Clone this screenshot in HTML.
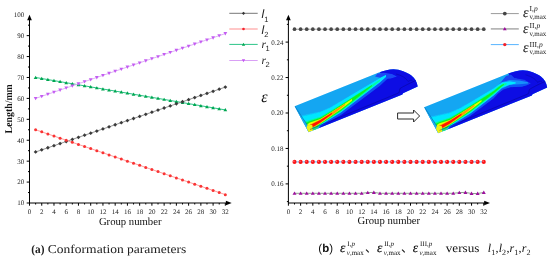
<!DOCTYPE html>
<html><head><meta charset="utf-8"><title>Figure</title>
<style>html,body{margin:0;padding:0;background:#fff}svg{display:block}</style>
</head><body>
<svg width="550" height="261" viewBox="0 0 550 261" text-rendering="geometricPrecision">
<rect width="550" height="261" fill="#fff"/>
<g stroke="#000" stroke-width="1" fill="none">
<path d="M29.5 203V17.8"/>
<path d="M29.5 203H228.7"/>
<path d="M29.5 203v2.7M41.74 203v2.7M53.98 203v2.7M66.22 203v2.7M78.46 203v2.7M90.7 203v2.7M102.94 203v2.7M115.18 203v2.7M127.42 203v2.7M139.66 203v2.7M151.9 203v2.7M164.14 203v2.7M176.38 203v2.7M188.62 203v2.7M200.86 203v2.7M213.1 203v2.7M225.34 203v2.7M35.62 203v1.5M47.86 203v1.5M60.1 203v1.5M72.34 203v1.5M84.58 203v1.5M96.82 203v1.5M109.06 203v1.5M121.3 203v1.5M133.54 203v1.5M145.78 203v1.5M158.02 203v1.5M170.26 203v1.5M182.5 203v1.5M194.74 203v1.5M206.98 203v1.5M219.22 203v1.5M29.5 203h-2.8M29.5 182.08h-2.8M29.5 161.16h-2.8M29.5 140.24h-2.8M29.5 119.32h-2.8M29.5 98.4h-2.8M29.5 77.48h-2.8M29.5 56.56h-2.8M29.5 35.64h-2.8M29.5 192.54h-1.5M29.5 171.62h-1.5M29.5 150.7h-1.5M29.5 129.78h-1.5M29.5 108.86h-1.5M29.5 87.94h-1.5M29.5 67.02h-1.5M29.5 46.1h-1.5M29.5 25.18h-1.5"/>
</g>
<path d="M29.5 14.8l2.35 5.4h-4.7z" fill="#000"/>
<path d="M231.7 203l-5.8 -2.35v4.7z" fill="#000"/>
<g stroke="#000" stroke-width="1" fill="none">
<path d="M288.4 203V17.8"/>
<path d="M288.4 203H487"/>
<path d="M288.4 203v2.7M300.61 203v2.7M312.82 203v2.7M325.03 203v2.7M337.24 203v2.7M349.45 203v2.7M361.66 203v2.7M373.87 203v2.7M386.08 203v2.7M398.29 203v2.7M410.5 203v2.7M422.71 203v2.7M434.92 203v2.7M447.13 203v2.7M459.34 203v2.7M471.55 203v2.7M483.76 203v2.7M294.5 203v1.5M306.71 203v1.5M318.92 203v1.5M331.13 203v1.5M343.34 203v1.5M355.55 203v1.5M367.76 203v1.5M379.97 203v1.5M392.19 203v1.5M404.39 203v1.5M416.61 203v1.5M428.81 203v1.5M441.02 203v1.5M453.24 203v1.5M465.44 203v1.5M477.65 203v1.5M288.4 183.9h-2.8M288.4 148.45h-2.8M288.4 113h-2.8M288.4 77.55h-2.8M288.4 42.1h-2.8M288.4 201.62h-1.5M288.4 166.17h-1.5M288.4 130.72h-1.5M288.4 95.28h-1.5M288.4 59.82h-1.5M288.4 24.37h-1.5"/>
</g>
<path d="M288.4 14.8l2.35 5.4h-4.7z" fill="#000"/>
<path d="M490 203l-5.8 -2.35v4.7z" fill="#000"/>
<g font-family='"Liberation Serif", serif' font-size="7" fill="#222" text-anchor="middle">
<text x="29.5" y="214.4">0</text>
<text x="41.74" y="214.4">2</text>
<text x="53.98" y="214.4">4</text>
<text x="66.22" y="214.4">6</text>
<text x="78.46" y="214.4">8</text>
<text x="90.7" y="214.4">10</text>
<text x="102.94" y="214.4">12</text>
<text x="115.18" y="214.4">14</text>
<text x="127.42" y="214.4">16</text>
<text x="139.66" y="214.4">18</text>
<text x="151.9" y="214.4">20</text>
<text x="164.14" y="214.4">22</text>
<text x="176.38" y="214.4">24</text>
<text x="188.62" y="214.4">26</text>
<text x="200.86" y="214.4">28</text>
<text x="213.1" y="214.4">30</text>
<text x="225.34" y="214.4">32</text>
<text x="288.4" y="214.3">0</text>
<text x="300.61" y="214.3">2</text>
<text x="312.82" y="214.3">4</text>
<text x="325.03" y="214.3">6</text>
<text x="337.24" y="214.3">8</text>
<text x="349.45" y="214.3">10</text>
<text x="361.66" y="214.3">12</text>
<text x="373.87" y="214.3">14</text>
<text x="386.08" y="214.3">16</text>
<text x="398.29" y="214.3">18</text>
<text x="410.5" y="214.3">20</text>
<text x="422.71" y="214.3">22</text>
<text x="434.92" y="214.3">24</text>
<text x="447.13" y="214.3">26</text>
<text x="459.34" y="214.3">28</text>
<text x="471.55" y="214.3">30</text>
<text x="483.76" y="214.3">32</text>
</g>
<g font-family='"Liberation Serif", serif' font-size="7" fill="#222" text-anchor="end">
<text x="24.3" y="205.4">10</text>
<text x="24.3" y="184.48">20</text>
<text x="24.3" y="163.56">30</text>
<text x="24.3" y="142.64">40</text>
<text x="24.3" y="121.72">50</text>
<text x="24.3" y="100.8">60</text>
<text x="24.3" y="79.88">70</text>
<text x="24.3" y="58.96">80</text>
<text x="24.3" y="38.04">90</text>
<text x="24.3" y="17.12">100</text>
<text x="283.5" y="186.3">0.16</text>
<text x="283.5" y="150.85">0.18</text>
<text x="283.5" y="115.4">0.20</text>
<text x="283.5" y="79.95">0.22</text>
<text x="283.5" y="44.5">0.24</text>
</g>
<text x="130.2" y="225.3" font-family='"Liberation Serif", serif' font-size="10.7" text-anchor="middle" fill="#111">Group number</text>
<text x="388.8" y="224.3" font-family='"Liberation Serif", serif' font-size="10.7" text-anchor="middle" fill="#111">Group number</text>
<text transform="translate(12.3 133.4) rotate(-90)" font-family='"Liberation Serif", serif' font-size="10.4" font-weight="bold" fill="#111" textLength="49.2" lengthAdjust="spacingAndGlyphs">Length/mm</text>
<text x="264.4" y="102.4" font-family='"Liberation Serif", serif' font-size="16" font-style="italic" text-anchor="middle" fill="#111">ε</text>
<path d="M35.62 77.48L41.74 78.53L47.86 79.57L53.98 80.62L60.1 81.66L66.22 82.71L72.34 83.76L78.46 84.8L84.58 85.85L90.7 86.89L96.82 87.94L102.94 88.99L109.06 90.03L115.18 91.08L121.3 92.12L127.42 93.17L133.54 94.22L139.66 95.26L145.78 96.31L151.9 97.35L158.02 98.4L164.14 99.45L170.26 100.49L176.38 101.54L182.5 102.58L188.62 103.63L194.74 104.68L200.86 105.72L206.98 106.77L213.1 107.81L219.22 108.86L225.34 109.91" stroke="#2cc488" stroke-width="1" fill="none"/>
<g><path d="M35.62 75.67L37.52 78.9L33.72 78.9Z" fill="#00a651"/><path d="M41.74 76.72L43.64 79.95L39.84 79.95Z" fill="#00a651"/><path d="M47.86 77.77L49.76 81L45.96 81Z" fill="#00a651"/><path d="M53.98 78.81L55.88 82.04L52.08 82.04Z" fill="#00a651"/><path d="M60.1 79.86L62 83.09L58.2 83.09Z" fill="#00a651"/><path d="M66.22 80.9L68.12 84.13L64.32 84.13Z" fill="#00a651"/><path d="M72.34 81.95L74.24 85.18L70.44 85.18Z" fill="#00a651"/><path d="M78.46 83L80.36 86.23L76.56 86.23Z" fill="#00a651"/><path d="M84.58 84.04L86.48 87.27L82.68 87.27Z" fill="#00a651"/><path d="M90.7 85.09L92.6 88.32L88.8 88.32Z" fill="#00a651"/><path d="M96.82 86.13L98.72 89.36L94.92 89.36Z" fill="#00a651"/><path d="M102.94 87.18L104.84 90.41L101.04 90.41Z" fill="#00a651"/><path d="M109.06 88.23L110.96 91.46L107.16 91.46Z" fill="#00a651"/><path d="M115.18 89.27L117.08 92.5L113.28 92.5Z" fill="#00a651"/><path d="M121.3 90.32L123.2 93.55L119.4 93.55Z" fill="#00a651"/><path d="M127.42 91.36L129.32 94.59L125.52 94.59Z" fill="#00a651"/><path d="M133.54 92.41L135.44 95.64L131.64 95.64Z" fill="#00a651"/><path d="M139.66 93.46L141.56 96.69L137.76 96.69Z" fill="#00a651"/><path d="M145.78 94.5L147.68 97.73L143.88 97.73Z" fill="#00a651"/><path d="M151.9 95.55L153.8 98.78L150 98.78Z" fill="#00a651"/><path d="M158.02 96.59L159.92 99.82L156.12 99.82Z" fill="#00a651"/><path d="M164.14 97.64L166.04 100.87L162.24 100.87Z" fill="#00a651"/><path d="M170.26 98.69L172.16 101.92L168.36 101.92Z" fill="#00a651"/><path d="M176.38 99.73L178.28 102.96L174.48 102.96Z" fill="#00a651"/><path d="M182.5 100.78L184.4 104.01L180.6 104.01Z" fill="#00a651"/><path d="M188.62 101.82L190.52 105.05L186.72 105.05Z" fill="#00a651"/><path d="M194.74 102.87L196.64 106.1L192.84 106.1Z" fill="#00a651"/><path d="M200.86 103.92L202.76 107.15L198.96 107.15Z" fill="#00a651"/><path d="M206.98 104.96L208.88 108.19L205.08 108.19Z" fill="#00a651"/><path d="M213.1 106.01L215 109.24L211.2 109.24Z" fill="#00a651"/><path d="M219.22 107.05L221.12 110.28L217.32 110.28Z" fill="#00a651"/><path d="M225.34 108.1L227.24 111.33L223.44 111.33Z" fill="#00a651"/></g>
<path d="M35.62 98.4L41.74 96.31L47.86 94.22L53.98 92.12L60.1 90.03L66.22 87.94L72.34 85.85L78.46 83.76L84.58 81.66L90.7 79.57L96.82 77.48L102.94 75.39L109.06 73.3L115.18 71.2L121.3 69.11L127.42 67.02L133.54 64.93L139.66 62.84L145.78 60.74L151.9 58.65L158.02 56.56L164.14 54.47L170.26 52.38L176.38 50.28L182.5 48.19L188.62 46.1L194.74 44.01L200.86 41.92L206.98 39.82L213.1 37.73L219.22 35.64L225.34 33.55" stroke="#e0b4f7" stroke-width="1" fill="none"/>
<g><path d="M35.62 100.3L37.52 96.97L33.72 96.97Z" fill="#c45cf2"/><path d="M41.74 98.21L43.64 94.88L39.84 94.88Z" fill="#c45cf2"/><path d="M47.86 96.12L49.76 92.79L45.96 92.79Z" fill="#c45cf2"/><path d="M53.98 94.02L55.88 90.7L52.08 90.7Z" fill="#c45cf2"/><path d="M60.1 91.93L62 88.61L58.2 88.61Z" fill="#c45cf2"/><path d="M66.22 89.84L68.12 86.52L64.32 86.52Z" fill="#c45cf2"/><path d="M72.34 87.75L74.24 84.42L70.44 84.42Z" fill="#c45cf2"/><path d="M78.46 85.66L80.36 82.33L76.56 82.33Z" fill="#c45cf2"/><path d="M84.58 83.56L86.48 80.24L82.68 80.24Z" fill="#c45cf2"/><path d="M90.7 81.47L92.6 78.15L88.8 78.15Z" fill="#c45cf2"/><path d="M96.82 79.38L98.72 76.05L94.92 76.05Z" fill="#c45cf2"/><path d="M102.94 77.29L104.84 73.96L101.04 73.96Z" fill="#c45cf2"/><path d="M109.06 75.2L110.96 71.87L107.16 71.87Z" fill="#c45cf2"/><path d="M115.18 73.1L117.08 69.78L113.28 69.78Z" fill="#c45cf2"/><path d="M121.3 71.01L123.2 67.69L119.4 67.69Z" fill="#c45cf2"/><path d="M127.42 68.92L129.32 65.59L125.52 65.59Z" fill="#c45cf2"/><path d="M133.54 66.83L135.44 63.5L131.64 63.5Z" fill="#c45cf2"/><path d="M139.66 64.74L141.56 61.41L137.76 61.41Z" fill="#c45cf2"/><path d="M145.78 62.64L147.68 59.32L143.88 59.32Z" fill="#c45cf2"/><path d="M151.9 60.55L153.8 57.23L150 57.23Z" fill="#c45cf2"/><path d="M158.02 58.46L159.92 55.14L156.12 55.14Z" fill="#c45cf2"/><path d="M164.14 56.37L166.04 53.04L162.24 53.04Z" fill="#c45cf2"/><path d="M170.26 54.28L172.16 50.95L168.36 50.95Z" fill="#c45cf2"/><path d="M176.38 52.18L178.28 48.86L174.48 48.86Z" fill="#c45cf2"/><path d="M182.5 50.09L184.4 46.77L180.6 46.77Z" fill="#c45cf2"/><path d="M188.62 48L190.52 44.67L186.72 44.67Z" fill="#c45cf2"/><path d="M194.74 45.91L196.64 42.58L192.84 42.58Z" fill="#c45cf2"/><path d="M200.86 43.82L202.76 40.49L198.96 40.49Z" fill="#c45cf2"/><path d="M206.98 41.72L208.88 38.4L205.08 38.4Z" fill="#c45cf2"/><path d="M213.1 39.63L215 36.31L211.2 36.31Z" fill="#c45cf2"/><path d="M219.22 37.54L221.12 34.21L217.32 34.21Z" fill="#c45cf2"/><path d="M225.34 35.45L227.24 32.12L223.44 32.12Z" fill="#c45cf2"/></g>
<path d="M35.62 151.96L41.74 149.86L47.86 147.77L53.98 145.68L60.1 143.59L66.22 141.5L72.34 139.4L78.46 137.31L84.58 135.22L90.7 133.13L96.82 131.04L102.94 128.94L109.06 126.85L115.18 124.76L121.3 122.67L127.42 120.58L133.54 118.48L139.66 116.39L145.78 114.3L151.9 112.21L158.02 110.12L164.14 108.02L170.26 105.93L176.38 103.84L182.5 101.75L188.62 99.66L194.74 97.56L200.86 95.47L206.98 93.38L213.1 91.29L219.22 89.2L225.34 87.1" stroke="#8a8a8a" stroke-width="0.9" fill="none"/>
<g><path d="M35.62 150.06L37.52 151.96L35.62 153.86L33.72 151.96Z" fill="#3a3a3a"/><path d="M41.74 147.96L43.64 149.86L41.74 151.76L39.84 149.86Z" fill="#3a3a3a"/><path d="M47.86 145.87L49.76 147.77L47.86 149.67L45.96 147.77Z" fill="#3a3a3a"/><path d="M53.98 143.78L55.88 145.68L53.98 147.58L52.08 145.68Z" fill="#3a3a3a"/><path d="M60.1 141.69L62 143.59L60.1 145.49L58.2 143.59Z" fill="#3a3a3a"/><path d="M66.22 139.6L68.12 141.5L66.22 143.4L64.32 141.5Z" fill="#3a3a3a"/><path d="M72.34 137.5L74.24 139.4L72.34 141.3L70.44 139.4Z" fill="#3a3a3a"/><path d="M78.46 135.41L80.36 137.31L78.46 139.21L76.56 137.31Z" fill="#3a3a3a"/><path d="M84.58 133.32L86.48 135.22L84.58 137.12L82.68 135.22Z" fill="#3a3a3a"/><path d="M90.7 131.23L92.6 133.13L90.7 135.03L88.8 133.13Z" fill="#3a3a3a"/><path d="M96.82 129.14L98.72 131.04L96.82 132.94L94.92 131.04Z" fill="#3a3a3a"/><path d="M102.94 127.04L104.84 128.94L102.94 130.84L101.04 128.94Z" fill="#3a3a3a"/><path d="M109.06 124.95L110.96 126.85L109.06 128.75L107.16 126.85Z" fill="#3a3a3a"/><path d="M115.18 122.86L117.08 124.76L115.18 126.66L113.28 124.76Z" fill="#3a3a3a"/><path d="M121.3 120.77L123.2 122.67L121.3 124.57L119.4 122.67Z" fill="#3a3a3a"/><path d="M127.42 118.68L129.32 120.58L127.42 122.48L125.52 120.58Z" fill="#3a3a3a"/><path d="M133.54 116.58L135.44 118.48L133.54 120.38L131.64 118.48Z" fill="#3a3a3a"/><path d="M139.66 114.49L141.56 116.39L139.66 118.29L137.76 116.39Z" fill="#3a3a3a"/><path d="M145.78 112.4L147.68 114.3L145.78 116.2L143.88 114.3Z" fill="#3a3a3a"/><path d="M151.9 110.31L153.8 112.21L151.9 114.11L150 112.21Z" fill="#3a3a3a"/><path d="M158.02 108.22L159.92 110.12L158.02 112.02L156.12 110.12Z" fill="#3a3a3a"/><path d="M164.14 106.12L166.04 108.02L164.14 109.92L162.24 108.02Z" fill="#3a3a3a"/><path d="M170.26 104.03L172.16 105.93L170.26 107.83L168.36 105.93Z" fill="#3a3a3a"/><path d="M176.38 101.94L178.28 103.84L176.38 105.74L174.48 103.84Z" fill="#3a3a3a"/><path d="M182.5 99.85L184.4 101.75L182.5 103.65L180.6 101.75Z" fill="#3a3a3a"/><path d="M188.62 97.76L190.52 99.66L188.62 101.56L186.72 99.66Z" fill="#3a3a3a"/><path d="M194.74 95.66L196.64 97.56L194.74 99.46L192.84 97.56Z" fill="#3a3a3a"/><path d="M200.86 93.57L202.76 95.47L200.86 97.37L198.96 95.47Z" fill="#3a3a3a"/><path d="M206.98 91.48L208.88 93.38L206.98 95.28L205.08 93.38Z" fill="#3a3a3a"/><path d="M213.1 89.39L215 91.29L213.1 93.19L211.2 91.29Z" fill="#3a3a3a"/><path d="M219.22 87.3L221.12 89.2L219.22 91.1L217.32 89.2Z" fill="#3a3a3a"/><path d="M225.34 85.2L227.24 87.1L225.34 89L223.44 87.1Z" fill="#3a3a3a"/></g>
<path d="M35.62 129.78L41.74 131.87L47.86 133.96L53.98 136.06L60.1 138.15L66.22 140.24L72.34 142.33L78.46 144.42L84.58 146.52L90.7 148.61L96.82 150.7L102.94 152.79L109.06 154.88L115.18 156.98L121.3 159.07L127.42 161.16L133.54 163.25L139.66 165.34L145.78 167.44L151.9 169.53L158.02 171.62L164.14 173.71L170.26 175.8L176.38 177.9L182.5 179.99L188.62 182.08L194.74 184.17L200.86 186.26L206.98 188.36L213.1 190.45L219.22 192.54L225.34 194.63" stroke="#ffa0a0" stroke-width="1" fill="none"/>
<g><circle cx="35.62" cy="129.78" r="1.5" fill="#fa3434"/><circle cx="41.74" cy="131.87" r="1.5" fill="#fa3434"/><circle cx="47.86" cy="133.96" r="1.5" fill="#fa3434"/><circle cx="53.98" cy="136.06" r="1.5" fill="#fa3434"/><circle cx="60.1" cy="138.15" r="1.5" fill="#fa3434"/><circle cx="66.22" cy="140.24" r="1.5" fill="#fa3434"/><circle cx="72.34" cy="142.33" r="1.5" fill="#fa3434"/><circle cx="78.46" cy="144.42" r="1.5" fill="#fa3434"/><circle cx="84.58" cy="146.52" r="1.5" fill="#fa3434"/><circle cx="90.7" cy="148.61" r="1.5" fill="#fa3434"/><circle cx="96.82" cy="150.7" r="1.5" fill="#fa3434"/><circle cx="102.94" cy="152.79" r="1.5" fill="#fa3434"/><circle cx="109.06" cy="154.88" r="1.5" fill="#fa3434"/><circle cx="115.18" cy="156.98" r="1.5" fill="#fa3434"/><circle cx="121.3" cy="159.07" r="1.5" fill="#fa3434"/><circle cx="127.42" cy="161.16" r="1.5" fill="#fa3434"/><circle cx="133.54" cy="163.25" r="1.5" fill="#fa3434"/><circle cx="139.66" cy="165.34" r="1.5" fill="#fa3434"/><circle cx="145.78" cy="167.44" r="1.5" fill="#fa3434"/><circle cx="151.9" cy="169.53" r="1.5" fill="#fa3434"/><circle cx="158.02" cy="171.62" r="1.5" fill="#fa3434"/><circle cx="164.14" cy="173.71" r="1.5" fill="#fa3434"/><circle cx="170.26" cy="175.8" r="1.5" fill="#fa3434"/><circle cx="176.38" cy="177.9" r="1.5" fill="#fa3434"/><circle cx="182.5" cy="179.99" r="1.5" fill="#fa3434"/><circle cx="188.62" cy="182.08" r="1.5" fill="#fa3434"/><circle cx="194.74" cy="184.17" r="1.5" fill="#fa3434"/><circle cx="200.86" cy="186.26" r="1.5" fill="#fa3434"/><circle cx="206.98" cy="188.36" r="1.5" fill="#fa3434"/><circle cx="213.1" cy="190.45" r="1.5" fill="#fa3434"/><circle cx="219.22" cy="192.54" r="1.5" fill="#fa3434"/><circle cx="225.34" cy="194.63" r="1.5" fill="#fa3434"/></g>
<path d="M294.5 29.2L300.61 29.2L306.71 29.2L312.82 29.2L318.92 29.2L325.03 29.2L331.13 29.2L337.24 29.2L343.34 29.2L349.45 29.2L355.55 29.2L361.66 29.2L367.76 29.2L373.87 29.2L379.97 29.2L386.08 29.2L392.19 29.2L398.29 29.2L404.39 29.2L410.5 29.2L416.61 29.2L422.71 29.2L428.81 29.2L434.92 29.2L441.02 29.2L447.13 29.2L453.24 29.2L459.34 29.2L465.44 29.2L471.55 29.2L477.65 29.2L483.76 29.2" stroke="#a0a0a0" stroke-width="1" fill="none"/>
<g><circle cx="294.5" cy="29.2" r="1.85" fill="#484848"/><circle cx="300.61" cy="29.2" r="1.85" fill="#484848"/><circle cx="306.71" cy="29.2" r="1.85" fill="#484848"/><circle cx="312.82" cy="29.2" r="1.85" fill="#484848"/><circle cx="318.92" cy="29.2" r="1.85" fill="#484848"/><circle cx="325.03" cy="29.2" r="1.85" fill="#484848"/><circle cx="331.13" cy="29.2" r="1.85" fill="#484848"/><circle cx="337.24" cy="29.2" r="1.85" fill="#484848"/><circle cx="343.34" cy="29.2" r="1.85" fill="#484848"/><circle cx="349.45" cy="29.2" r="1.85" fill="#484848"/><circle cx="355.55" cy="29.2" r="1.85" fill="#484848"/><circle cx="361.66" cy="29.2" r="1.85" fill="#484848"/><circle cx="367.76" cy="29.2" r="1.85" fill="#484848"/><circle cx="373.87" cy="29.2" r="1.85" fill="#484848"/><circle cx="379.97" cy="29.2" r="1.85" fill="#484848"/><circle cx="386.08" cy="29.2" r="1.85" fill="#484848"/><circle cx="392.19" cy="29.2" r="1.85" fill="#484848"/><circle cx="398.29" cy="29.2" r="1.85" fill="#484848"/><circle cx="404.39" cy="29.2" r="1.85" fill="#484848"/><circle cx="410.5" cy="29.2" r="1.85" fill="#484848"/><circle cx="416.61" cy="29.2" r="1.85" fill="#484848"/><circle cx="422.71" cy="29.2" r="1.85" fill="#484848"/><circle cx="428.81" cy="29.2" r="1.85" fill="#484848"/><circle cx="434.92" cy="29.2" r="1.85" fill="#484848"/><circle cx="441.02" cy="29.2" r="1.85" fill="#484848"/><circle cx="447.13" cy="29.2" r="1.85" fill="#484848"/><circle cx="453.24" cy="29.2" r="1.85" fill="#484848"/><circle cx="459.34" cy="29.2" r="1.85" fill="#484848"/><circle cx="465.44" cy="29.2" r="1.85" fill="#484848"/><circle cx="471.55" cy="29.2" r="1.85" fill="#484848"/><circle cx="477.65" cy="29.2" r="1.85" fill="#484848"/><circle cx="483.76" cy="29.2" r="1.85" fill="#484848"/></g>
<path d="M294.5 193.3L300.61 193.3L306.71 193.3L312.82 193.3L318.92 193.3L325.03 193.3L331.13 193.3L337.24 193.3L343.34 193.3L349.45 193.3L355.55 193.3L361.66 193.3L367.76 192.6L373.87 192.4L379.97 193.3L386.08 193.3L392.19 193.3L398.29 193.3L404.39 193.3L410.5 193.3L416.61 193.3L422.71 193.3L428.81 193.3L434.92 193.3L441.02 193.3L447.13 193.3L453.24 193.3L459.34 192.6L465.44 192.4L471.55 193.5L477.65 193.5L483.76 192.5" stroke="#708870" stroke-width="0.8" fill="none"/>
<g><path d="M294.5 191.4L296.5 194.8L292.5 194.8Z" fill="#9c0f9c"/><path d="M300.61 191.4L302.61 194.8L298.61 194.8Z" fill="#9c0f9c"/><path d="M306.71 191.4L308.71 194.8L304.71 194.8Z" fill="#9c0f9c"/><path d="M312.82 191.4L314.82 194.8L310.82 194.8Z" fill="#9c0f9c"/><path d="M318.92 191.4L320.92 194.8L316.92 194.8Z" fill="#9c0f9c"/><path d="M325.03 191.4L327.03 194.8L323.03 194.8Z" fill="#9c0f9c"/><path d="M331.13 191.4L333.13 194.8L329.13 194.8Z" fill="#9c0f9c"/><path d="M337.24 191.4L339.24 194.8L335.24 194.8Z" fill="#9c0f9c"/><path d="M343.34 191.4L345.34 194.8L341.34 194.8Z" fill="#9c0f9c"/><path d="M349.45 191.4L351.45 194.8L347.45 194.8Z" fill="#9c0f9c"/><path d="M355.55 191.4L357.55 194.8L353.55 194.8Z" fill="#9c0f9c"/><path d="M361.66 191.4L363.66 194.8L359.66 194.8Z" fill="#9c0f9c"/><path d="M367.76 190.7L369.76 194.1L365.76 194.1Z" fill="#9c0f9c"/><path d="M373.87 190.5L375.87 193.9L371.87 193.9Z" fill="#9c0f9c"/><path d="M379.97 191.4L381.97 194.8L377.97 194.8Z" fill="#9c0f9c"/><path d="M386.08 191.4L388.08 194.8L384.08 194.8Z" fill="#9c0f9c"/><path d="M392.19 191.4L394.19 194.8L390.19 194.8Z" fill="#9c0f9c"/><path d="M398.29 191.4L400.29 194.8L396.29 194.8Z" fill="#9c0f9c"/><path d="M404.39 191.4L406.39 194.8L402.39 194.8Z" fill="#9c0f9c"/><path d="M410.5 191.4L412.5 194.8L408.5 194.8Z" fill="#9c0f9c"/><path d="M416.61 191.4L418.61 194.8L414.61 194.8Z" fill="#9c0f9c"/><path d="M422.71 191.4L424.71 194.8L420.71 194.8Z" fill="#9c0f9c"/><path d="M428.81 191.4L430.81 194.8L426.81 194.8Z" fill="#9c0f9c"/><path d="M434.92 191.4L436.92 194.8L432.92 194.8Z" fill="#9c0f9c"/><path d="M441.02 191.4L443.02 194.8L439.02 194.8Z" fill="#9c0f9c"/><path d="M447.13 191.4L449.13 194.8L445.13 194.8Z" fill="#9c0f9c"/><path d="M453.24 191.4L455.24 194.8L451.24 194.8Z" fill="#9c0f9c"/><path d="M459.34 190.7L461.34 194.1L457.34 194.1Z" fill="#9c0f9c"/><path d="M465.44 190.5L467.44 193.9L463.44 193.9Z" fill="#9c0f9c"/><path d="M471.55 191.6L473.55 195L469.55 195Z" fill="#9c0f9c"/><path d="M477.65 191.6L479.65 195L475.65 195Z" fill="#9c0f9c"/><path d="M483.76 190.6L485.76 194L481.76 194Z" fill="#9c0f9c"/></g>
<path d="M294.5 161.9L300.61 161.9L306.71 161.9L312.82 161.9L318.92 161.9L325.03 161.9L331.13 161.9L337.24 161.9L343.34 161.9L349.45 161.9L355.55 161.9L361.66 161.9L367.76 161.9L373.87 161.9L379.97 161.9L386.08 161.9L392.19 161.9L398.29 161.9L404.39 161.9L410.5 161.9L416.61 161.9L422.71 161.9L428.81 161.9L434.92 161.9L441.02 161.9L447.13 161.9L453.24 161.9L459.34 161.9L465.44 161.9L471.55 161.9L477.65 161.9L483.76 161.9" stroke="#7cc8ff" stroke-width="1.4" fill="none"/>
<g><circle cx="294.5" cy="161.9" r="2.05" fill="#fb1418"/><circle cx="300.61" cy="161.9" r="2.05" fill="#fb1418"/><circle cx="306.71" cy="161.9" r="2.05" fill="#fb1418"/><circle cx="312.82" cy="161.9" r="2.05" fill="#fb1418"/><circle cx="318.92" cy="161.9" r="2.05" fill="#fb1418"/><circle cx="325.03" cy="161.9" r="2.05" fill="#fb1418"/><circle cx="331.13" cy="161.9" r="2.05" fill="#fb1418"/><circle cx="337.24" cy="161.9" r="2.05" fill="#fb1418"/><circle cx="343.34" cy="161.9" r="2.05" fill="#fb1418"/><circle cx="349.45" cy="161.9" r="2.05" fill="#fb1418"/><circle cx="355.55" cy="161.9" r="2.05" fill="#fb1418"/><circle cx="361.66" cy="161.9" r="2.05" fill="#fb1418"/><circle cx="367.76" cy="161.9" r="2.05" fill="#fb1418"/><circle cx="373.87" cy="161.9" r="2.05" fill="#fb1418"/><circle cx="379.97" cy="161.9" r="2.05" fill="#fb1418"/><circle cx="386.08" cy="161.9" r="2.05" fill="#fb1418"/><circle cx="392.19" cy="161.9" r="2.05" fill="#fb1418"/><circle cx="398.29" cy="161.9" r="2.05" fill="#fb1418"/><circle cx="404.39" cy="161.9" r="2.05" fill="#fb1418"/><circle cx="410.5" cy="161.9" r="2.05" fill="#fb1418"/><circle cx="416.61" cy="161.9" r="2.05" fill="#fb1418"/><circle cx="422.71" cy="161.9" r="2.05" fill="#fb1418"/><circle cx="428.81" cy="161.9" r="2.05" fill="#fb1418"/><circle cx="434.92" cy="161.9" r="2.05" fill="#fb1418"/><circle cx="441.02" cy="161.9" r="2.05" fill="#fb1418"/><circle cx="447.13" cy="161.9" r="2.05" fill="#fb1418"/><circle cx="453.24" cy="161.9" r="2.05" fill="#fb1418"/><circle cx="459.34" cy="161.9" r="2.05" fill="#fb1418"/><circle cx="465.44" cy="161.9" r="2.05" fill="#fb1418"/><circle cx="471.55" cy="161.9" r="2.05" fill="#fb1418"/><circle cx="477.65" cy="161.9" r="2.05" fill="#fb1418"/><circle cx="483.76" cy="161.9" r="2.05" fill="#fb1418"/></g>
<g fill="#ff9a9a"><circle cx="293.9" cy="161.2" r="0.6"/><circle cx="300.01" cy="161.2" r="0.6"/><circle cx="306.11" cy="161.2" r="0.6"/><circle cx="312.22" cy="161.2" r="0.6"/><circle cx="318.32" cy="161.2" r="0.6"/><circle cx="324.43" cy="161.2" r="0.6"/><circle cx="330.53" cy="161.2" r="0.6"/><circle cx="336.64" cy="161.2" r="0.6"/><circle cx="342.74" cy="161.2" r="0.6"/><circle cx="348.85" cy="161.2" r="0.6"/><circle cx="354.95" cy="161.2" r="0.6"/><circle cx="361.06" cy="161.2" r="0.6"/><circle cx="367.16" cy="161.2" r="0.6"/><circle cx="373.27" cy="161.2" r="0.6"/><circle cx="379.37" cy="161.2" r="0.6"/><circle cx="385.48" cy="161.2" r="0.6"/><circle cx="391.58" cy="161.2" r="0.6"/><circle cx="397.69" cy="161.2" r="0.6"/><circle cx="403.79" cy="161.2" r="0.6"/><circle cx="409.9" cy="161.2" r="0.6"/><circle cx="416" cy="161.2" r="0.6"/><circle cx="422.11" cy="161.2" r="0.6"/><circle cx="428.21" cy="161.2" r="0.6"/><circle cx="434.32" cy="161.2" r="0.6"/><circle cx="440.42" cy="161.2" r="0.6"/><circle cx="446.53" cy="161.2" r="0.6"/><circle cx="452.63" cy="161.2" r="0.6"/><circle cx="458.74" cy="161.2" r="0.6"/><circle cx="464.84" cy="161.2" r="0.6"/><circle cx="470.95" cy="161.2" r="0.6"/><circle cx="477.05" cy="161.2" r="0.6"/><circle cx="483.16" cy="161.2" r="0.6"/></g>
<path d="M229.3 13.3H257.7" stroke="#777" stroke-width="1" fill="none"/>
<path d="M243.5 11.7L245.1 13.3L243.5 14.9L241.9 13.3Z" fill="#333"/>
<path d="M229.3 29H257.7" stroke="#ff8f8f" stroke-width="1" fill="none"/>
<circle cx="243.5" cy="29" r="1.3" fill="#f5222d"/>
<path d="M229.3 44.4H257.7" stroke="#2cc488" stroke-width="1" fill="none"/>
<path d="M243.5 42.78L245.2 45.67L241.8 45.67Z" fill="#00a651"/>
<path d="M229.3 60.5H257.7" stroke="#d9a0f5" stroke-width="1" fill="none"/>
<path d="M243.5 62.2L245.2 59.23L241.8 59.23Z" fill="#c455f2"/>
<text x="261.5" y="18" font-family='"Liberation Sans", sans-serif' font-style="italic" font-size="12" fill="#222">l<tspan font-family='"Liberation Sans", sans-serif' font-style="normal" font-size="7.5" dx="0" dy="3.6">1</tspan></text>
<text x="261.5" y="33.7" font-family='"Liberation Sans", sans-serif' font-style="italic" font-size="12" fill="#222">l<tspan font-family='"Liberation Sans", sans-serif' font-style="normal" font-size="7.5" dx="0" dy="3.6">2</tspan></text>
<text x="261.5" y="47.6" font-family='"Liberation Serif", serif' font-style="italic" font-size="11.5" fill="#222">r<tspan font-family='"Liberation Sans", sans-serif' font-style="normal" font-size="7.5" dx="-0.6" dy="3.6">1</tspan></text>
<text x="261.5" y="63.6" font-family='"Liberation Serif", serif' font-style="italic" font-size="11.5" fill="#222">r<tspan font-family='"Liberation Sans", sans-serif' font-style="normal" font-size="7.5" dx="-0.6" dy="3.6">2</tspan></text>
<path d="M490.8 13.6H518.8" stroke="#9a9a9a" stroke-width="1" fill="none"/>
<circle cx="504.8" cy="13.6" r="1.9" fill="#444"/>
<path d="M490.8 28.9H518.8" stroke="#a4a4a4" stroke-width="1.4" fill="none"/>
<path d="M504.8 27.09L506.7 30.32L502.9 30.32Z" fill="#9c0f9c"/>
<path d="M490.8 44.6H518.8" stroke="#58b4ff" stroke-width="1" fill="none"/>
<circle cx="504.8" cy="44.6" r="1.7" fill="#f3202a"/>
<text x="523" y="16.7" font-family='"Liberation Serif", serif' font-style="italic" font-size="14" fill="#222" stroke="#222" stroke-width="0.1">ε</text>
<text x="529.5" y="11.2" font-family='"Liberation Serif", serif' font-size="7.5" fill="#222">I,<tspan font-style="italic">p</tspan></text>
<text x="529.5" y="19" font-family='"Liberation Serif", serif' font-size="7" fill="#222">v,max</text>
<text x="523" y="33.4" font-family='"Liberation Serif", serif' font-style="italic" font-size="14" fill="#222" stroke="#222" stroke-width="0.1">ε</text>
<text x="529.5" y="27.9" font-family='"Liberation Serif", serif' font-size="7.5" fill="#222">II,<tspan font-style="italic">p</tspan></text>
<text x="529.5" y="35.7" font-family='"Liberation Serif", serif' font-size="7" fill="#222">v,max</text>
<text x="523" y="52" font-family='"Liberation Serif", serif' font-style="italic" font-size="14" fill="#222" stroke="#222" stroke-width="0.1">ε</text>
<text x="529.5" y="46.5" font-family='"Liberation Serif", serif' font-size="7.5" fill="#222">III,<tspan font-style="italic">p</tspan></text>
<text x="529.5" y="54.3" font-family='"Liberation Serif", serif' font-size="7" fill="#222">v,max</text>
<text x="31.3" y="253" font-family='"Liberation Serif", serif' font-size="12" font-weight="bold" fill="#222" textLength="13.2" lengthAdjust="spacingAndGlyphs">(a)</text>
<text x="47.8" y="253" font-family='"Liberation Serif", serif' font-size="12" fill="#222" textLength="138.6" lengthAdjust="spacingAndGlyphs">Conformation parameters</text>
<text x="318.3" y="251.5" font-family='"Liberation Sans", sans-serif' font-size="11.5" fill="#111">(<tspan font-weight="bold">b</tspan>)</text>
<text x="340" y="251.5" font-family='"Liberation Serif", serif' font-style="italic" font-size="13.5" fill="#111" stroke="#111" stroke-width="0.15">ε</text>
<text x="347.3" y="245.8" font-family='"Liberation Serif", serif' font-size="7" fill="#111">I,<tspan font-style="italic">p</tspan></text>
<text x="346.8" y="255.4" font-family='"Liberation Serif", serif' font-size="7" fill="#111"><tspan font-style="italic">v</tspan>,max</text>
<text x="376.9" y="251.5" font-family='"Liberation Serif", serif' font-style="italic" font-size="13.5" fill="#111" stroke="#111" stroke-width="0.15">ε</text>
<text x="384.2" y="245.8" font-family='"Liberation Serif", serif' font-size="7" fill="#111">II,<tspan font-style="italic">p</tspan></text>
<text x="383.7" y="255.4" font-family='"Liberation Serif", serif' font-size="7" fill="#111"><tspan font-style="italic">v</tspan>,max</text>
<text x="412.7" y="251.5" font-family='"Liberation Serif", serif' font-style="italic" font-size="13.5" fill="#111" stroke="#111" stroke-width="0.15">ε</text>
<text x="420" y="245.8" font-family='"Liberation Serif", serif' font-size="7" fill="#111">III,<tspan font-style="italic">p</tspan></text>
<text x="419.5" y="255.4" font-family='"Liberation Serif", serif' font-size="7" fill="#111"><tspan font-style="italic">v</tspan>,max</text>
<text x="365" y="251.8" font-family='"Liberation Serif", "Noto Sans CJK SC", serif' font-size="12" fill="#111">、</text>
<text x="401" y="251.8" font-family='"Liberation Serif", "Noto Sans CJK SC", serif' font-size="12" fill="#111">、</text>
<text x="445.8" y="251.5" font-family='"Liberation Serif", serif' font-size="12" fill="#111" textLength="33.6" lengthAdjust="spacingAndGlyphs">versus</text>
<text x="487.8" y="251.5" font-family='"Liberation Serif", serif' font-size="12" fill="#111" textLength="42.6" lengthAdjust="spacing"><tspan font-style="italic">l</tspan><tspan font-size="8" dy="3.2">1</tspan><tspan dy="-3.2" font-size="1"> </tspan><tspan>,</tspan><tspan font-style="italic">l</tspan><tspan font-size="8" dy="3.2">2</tspan><tspan dy="-3.2" font-size="1"> </tspan><tspan>,</tspan><tspan font-style="italic">r</tspan><tspan font-size="8" dy="3.2">1</tspan><tspan dy="-3.2" font-size="1"> </tspan><tspan>,</tspan><tspan font-style="italic">r</tspan><tspan font-size="8" dy="3.2">2</tspan><tspan dy="-3.2" font-size="1"> </tspan></text>
<defs>
<clipPath id="fc"><path d="M294.6 106.3L378.8 72.6C384 70.6 389 69.3 393.4 69.3C400 69.3 407 72.4 411.4 75.6C415 78.5 417 82 417.7 86.6L403 93.3L402.4 94.6L308.6 132.3Z"/></clipPath>
<filter id="bl" x="-5%" y="-5%" width="110%" height="110%"><feGaussianBlur stdDeviation="0.6"/></filter>
</defs>
<g><g clip-path="url(#fc)">
<rect x="290" y="65" width="132" height="72" fill="#14a6f2"/>
<g filter="url(#bl)">
<path d="M316 133L320.4 124.5L341 112L364 94.5L380 82.5L387 76.5L384 74.5L380 72.5L378 68L425 60L425 100L310 140Z" fill="#0808e4"/>
<path d="M375 76.6L377.5 73.4L384 72.8L392 73.9L397 76.4L391 78.5L385 79Z" fill="#1f4af5"/>
<path d="M296 113.3L300 117.1L310 114.7L320 112.3L330 107.9L341 101.3L364 87.5L380 78L386 75.1L388 78.2L380 85.7L364 97.7L341 114.9L320.4 126.5L318 131.7Z" fill="#0a55f5"/>
<path d="M296 111.7L300 115.73L310 113.56L320 111.39L330 107.21L341 100.84L364 87.27L380 78L386 75.1L386 76.7L380 82.3L364 94.6L341 112.3L320.4 125.1L316 130.7Z" fill="#0cc0fa"/>
<path d="M296 113.3L300 117.1L310 114.7L320 112.3L330 107.9L341 101.3L364 87.5L380 78L386 75.1L386 76.7L380 82.3L364 94.6L341 112.3L320.4 125.1L316 130.7Z" fill="#00e6ff"/>
<path d="M299 119.3L304 122L309.5 120.1L320.4 116.7L330 111L341 104.4L364 89.7L374 83.5L380 79.6L380 80.9L374 85.7L364 93.7L341 111.4L320.4 124.6L315 130.2Z" fill="#00ffa0"/>
<path d="M302 122.7L304.5 123.5L309.5 121.3L320.4 117.7L330 111.9L341 105L364 90.3L372 85L372 86.1L364 92.6L341 110.7L320.4 124.2L314 129.7Z" fill="#10f020"/>
<path d="M305.5 125.7L309.5 122.7L320.4 119L341 106.1L352 99.1L352 100.7L341 109.3L320.4 123.6L312 128.7Z" fill="#e6ff00"/>
<path d="M308 125.7L320.4 119.4L335 110.1L345 103.7L345 105.1L335 113L320.4 123.1L313 127.7Z" fill="#ff9a00"/>
<path d="M310 125.1L320.4 119.9L332 112.7L332 114.1L320.4 122.5L313 126.9Z" fill="#ff1400"/>
</g>
<path d="M294.6 106.3L307.4 125.2L308.8 132.3L300 128Z" fill="#1cacf2"/>
<path d="M307.2 125.4L312.2 124.8L313 130.8L308.6 132.3L306.4 128Z" fill="#eef014"/>
<path d="M312.4 127L318.5 126.6L317 129.2L313 130.8Z" fill="#2ae07a"/>
<path d="M294.9 106.3L307.4 125.2" stroke="#0a5a96" stroke-width="0.5" fill="none"/>
<path d="M417 80C412 82 404 86 400 88.5C399.4 90.5 399.6 92 398.6 93L310 129.5" stroke="#06067a" stroke-width="0.5" fill="none" opacity="0.8"/>
<path d="M396 74C402 75.5 406 78 408 81.5C409.5 80.5 411 80 412.5 80.5" stroke="#06067a" stroke-width="0.5" fill="none" opacity="0.6"/>
</g></g>
<g transform="translate(129.5 0.9)"><g clip-path="url(#fc)">
<rect x="290" y="65" width="132" height="72" fill="#14a6f2"/>
<g filter="url(#bl)">
<path d="M316 133L320.4 124.5L341 112L364 94.5L372 88L380 84L396 83L392 79L381 76.5L379 72.5L377 68L425 60L425 100L310 140Z" fill="#0808e4"/>
<path d="M366 92.5L372 88.6L381 85.8L393 85.6L401.5 82.6L395 78.8L385 77.2L381.5 73.6L376.5 75.2L373 79.4L370 83Z" fill="#1a44f2"/>
<path d="M296 113.3L300 117.1L310 114.7L320 112.3L330 107.9L341 101.3L364 87.5L369 83.9L373 81.7L380 80.7L386 81.4L400 83.7L392 85.9L381 86.3L374 88.7L369 92.3L364 97.7L341 114.9L320.4 126.5L318 131.7Z" fill="#0a55f5"/>
<path d="M371 81.5L380 79.2L390 79.5L398.5 81.4L398.5 82.6L390 83.3L380 84.2L373 87.5Z" fill="#1590fa"/>
<path d="M296 111.7L300 115.73L310 113.56L320 111.39L330 107.21L341 100.84L364 87.27L369 83.9L373 81.7L380 80.7L386 81.4L386 82.7L380 83.9L373 86.7L369 90.1L364 94.6L341 112.3L320.4 125.1L316 130.7Z" fill="#0cc0fa"/>
<path d="M296 113.3L300 117.1L310 114.7L320 112.3L330 107.9L341 101.3L364 87.5L369 83.9L373 81.7L380 80.7L386 81.4L386 82.7L380 83.9L373 86.7L369 90.1L364 94.6L341 112.3L320.4 125.1L316 130.7Z" fill="#00e6ff"/>
<path d="M299 119.3L304 122L309.5 120.1L320.4 116.7L330 111L341 104.4L364 89.7L369 85.3L373 82.9L377 82.2L377 83.6L373 85.7L369 89.1L364 93.7L341 111.4L320.4 124.6L315 130.2Z" fill="#00ffa0"/>
<path d="M302 122.7L304.5 123.5L309.5 121.3L320.4 117.7L330 111.9L341 105L364 90.3L369 86.3L372.5 83.9L374.5 83.2L374.5 83.8L372.5 85.3L369 88.3L364 92.6L341 110.7L320.4 124.2L314 129.7Z" fill="#10f020"/>
<path d="M305.5 125.7L309.5 122.7L320.4 119L341 106.1L352 99.1L352 100.7L341 109.3L320.4 123.6L312 128.7Z" fill="#e6ff00"/>
<path d="M308 125.7L320.4 119.4L335 110.1L345 103.7L345 105.1L335 113L320.4 123.1L313 127.7Z" fill="#ff9a00"/>
<path d="M310 125.1L320.4 119.9L332 112.7L332 114.1L320.4 122.5L313 126.9Z" fill="#ff1400"/>
</g>
<path d="M294.6 106.3L307.4 125.2L308.8 132.3L300 128Z" fill="#1cacf2"/>
<path d="M307.2 125.4L312.2 124.8L313 130.8L308.6 132.3L306.4 128Z" fill="#eef014"/>
<path d="M312.4 127L318.5 126.6L317 129.2L313 130.8Z" fill="#2ae07a"/>
<path d="M294.9 106.3L307.4 125.2" stroke="#0a5a96" stroke-width="0.5" fill="none"/>
<path d="M417 80C412 82 404 86 400 88.5C399.4 90.5 399.6 92 398.6 93L310 129.5" stroke="#06067a" stroke-width="0.5" fill="none" opacity="0.8"/>
<path d="M396 74C402 75.5 406 78 408 81.5C409.5 80.5 411 80 412.5 80.5" stroke="#06067a" stroke-width="0.5" fill="none" opacity="0.6"/>
</g></g>
<path d="M397.6 113H413.6V110L419.6 116L413.6 122V119H397.6Z" fill="#fff" stroke="#2a2a2a" stroke-width="1"/>
</svg>
</body></html>
